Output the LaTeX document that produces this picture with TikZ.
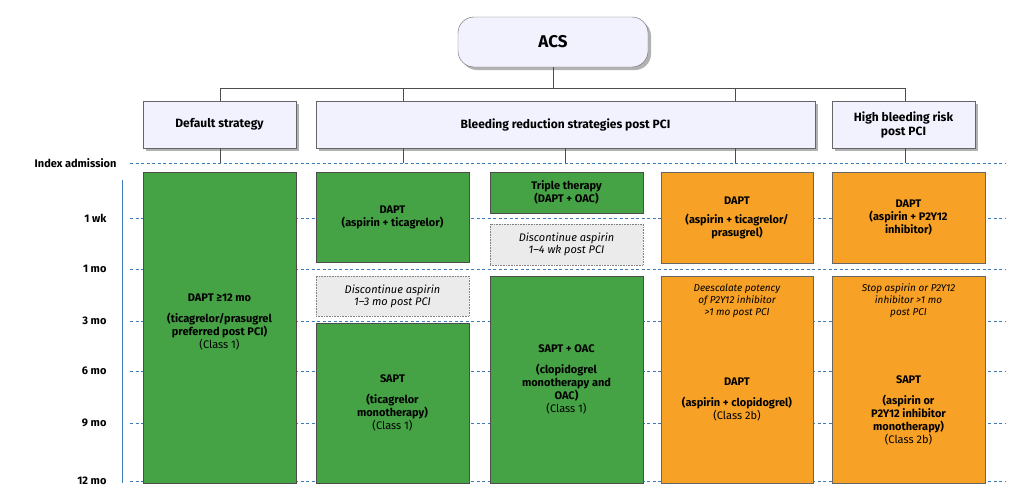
\documentclass[tikz,border=0pt]{standalone}
\usepackage{fontspec}
\setmainfont{Fira Sans}
\begin{document}
\begin{tikzpicture}[x=1pt,y=-1pt,
 hdr/.style={draw=black!60,fill=blue!5!white,line width=0.6pt,font=\bfseries\fontsize{12}{14}\selectfont,align=center},
 gbox/.style={draw=black!70,fill=grn,line width=0.6pt,font=\bfseries\fontsize{11}{13}\selectfont,align=center},
 obox/.style={draw=black!60,fill=org,line width=0.6pt,font=\bfseries\fontsize{11}{13}\selectfont,align=center},
 dbox/.style={draw=black!50,fill=black!8,densely dotted,line width=0.6pt,font=\itshape\fontsize{11}{12}\selectfont,align=center},
 tl/.style={draw=axis,dash pattern=on 3pt off 2.5pt,line width=1pt},
 lab/.style={anchor=east,font=\bfseries\fontsize{11}{13}\selectfont},
 conn/.style={draw=black!70,line width=0.7pt}]
\definecolor{grn}{HTML}{45A245}
\definecolor{org}{HTML}{F7A226}
\definecolor{axis}{HTML}{3D7CB8}
\useasboundingbox (0,0) rectangle (1024,501);
% time lines
\foreach \y in {163,218,269,321,371,423,481}{\draw[tl] (130,\y) -- (1005,\y);}
\draw[axis,line width=1pt] (122,180) -- (122,483);
\node[lab] at (120,163) {Index admission};
\node[lab] at (110,218) {1 wk};
\node[lab] at (110,269) {1 mo};
\node[lab] at (110,321) {3 mo};
\node[lab] at (110,371) {6 mo};
\node[lab] at (110,423) {9 mo};
\node[lab] at (110,481) {12 mo};
% ACS
\fill[black!30,rounded corners=16pt] (461,20) rectangle (651,70);
\node[draw=black!60,fill=blue!5!white,rounded corners=16pt,minimum width=190pt,minimum height=50pt,font=\bfseries\fontsize{17}{20}\selectfont] (acs) at (553,42) {ACS};
% headers
\fill[black!30] (146,104) rectangle (299,151);
\fill[black!30] (319,104) rectangle (818,151);
\fill[black!30] (835,104) rectangle (978,151);
\node[hdr,minimum width=153pt,minimum height=47pt] (h1) at (219.5,124.5) {Default strategy};
\node[hdr,minimum width=499pt,minimum height=47pt] (h2) at (565.5,124.5) {Bleeding reduction strategies post PCI};
\node[hdr,minimum width=143pt,minimum height=47pt] (h3) at (903.5,124.5) {High bleeding risk\\post PCI};
\coordinate (bar) at (553,88);
\draw[conn] (acs.south) -- (bar);
\draw[conn] (220,101) |- (905,88) -- (905,101);
\draw[conn] (403,101) -- (403,88);
\draw[conn] (735,101) -- (735,88);
\draw[conn] (220,148) -- (220,163);
\draw[conn] (403,148) -- (403,163);
\draw[conn] (565,148) -- (565,163);
\draw[conn] (735,148) -- (735,163);
\draw[conn] (905,148) -- (905,163);
% col1
\node[gbox,minimum width=153pt,minimum height=311pt] (c1) at (219.5,327.5) {};
\node[font=\fontsize{11}{13}\selectfont,align=center] at (219.5,322) {\textbf{DAPT ≥12 mo}\\[8pt]\textbf{(ticagrelor/prasugrel}\\\textbf{preferred post PCI)}\\(Class 1)};
% col2
\node[gbox,minimum width=153pt,minimum height=90pt] (c2a) at (392.5,217) {DAPT\\(aspirin + ticagrelor)};
\node[dbox,minimum width=153pt,minimum height=40pt] (c2b) at (392.5,296) {Discontinue aspirin\\1–3 mo post PCI};
\node[gbox,minimum width=153pt,minimum height=160pt] (c2c) at (392.5,403) {SAPT\\[8pt](ticagrelor\\monotherapy)\\\mdseries(Class 1)};
% col3
\node[gbox,minimum width=153pt,minimum height=41pt] (c3a) at (566.5,192.5) {Triple therapy\\(DAPT + OAC)};
\node[dbox,minimum width=153pt,minimum height=41pt] (c3b) at (566.5,244.5) {Discontinue aspirin\\1–4 wk post PCI};
\node[gbox,minimum width=153pt,minimum height=207pt] (c3c) at (566.5,379.5) {SAPT + OAC\\[8pt](clopidogrel\\monotherapy and\\OAC)\\\mdseries(Class 1)};
% col4
\node[obox,minimum width=152pt,minimum height=91pt] (c4a) at (737,217.5) {DAPT\\[6pt](aspirin + ticagrelor/\\prasugrel)};
\node[obox,minimum width=152pt,minimum height=207pt] (c4b) at (737,379.5) {};
\node[font=\itshape\fontsize{10}{12}\selectfont,align=center] at (737,301) {Deescalate potency\\of P2Y12 inhibitor\\>1 mo post PCI};
\node[font=\fontsize{11}{13}\selectfont,align=center] at (737,399) {\textbf{DAPT}\\[8pt]\textbf{(aspirin + clopidogrel)}\\(Class 2b)};
% col5
\node[obox,minimum width=153pt,minimum height=91pt] (c5a) at (908.5,217.5) {DAPT\\(aspirin + P2Y12\\inhibitor)};
\node[obox,minimum width=153pt,minimum height=207pt] (c5b) at (908.5,379.5) {};
\node[font=\itshape\fontsize{10}{12}\selectfont,align=center] at (908.5,301) {Stop aspirin or P2Y12\\inhibitor >1 mo\\post PCI};
\node[font=\fontsize{11}{13}\selectfont,align=center] at (908.5,410) {\textbf{SAPT}\\[8pt]\textbf{(aspirin or}\\\textbf{P2Y12 inhibitor}\\\textbf{monotherapy)}\\(Class 2b)};
\end{tikzpicture}
\end{document}
